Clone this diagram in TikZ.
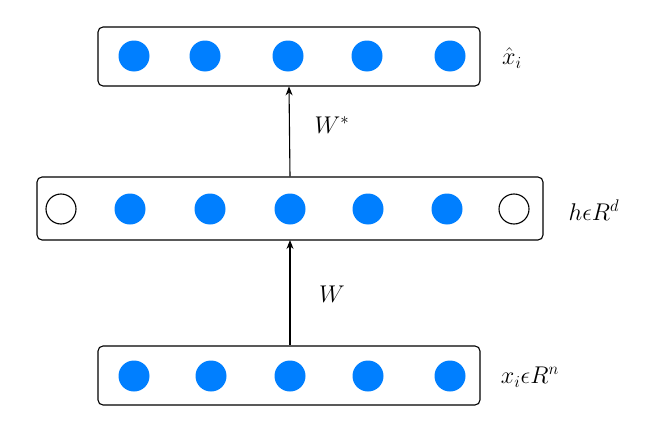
\documentclass[tikz,border=0pt]{standalone}
\usetikzlibrary{arrows.meta}
\definecolor{nb}{HTML}{007FFF}
\begin{document}
\begin{tikzpicture}[x=1pt,y=-1pt,
 box/.style={draw,rounded corners=5pt,line width=1.1pt},
 f/.style={circle,fill=nb,inner sep=0,minimum size=31pt},
 h/.style={circle,draw,line width=1.1pt,inner sep=0,minimum size=30pt},
 lab/.style={font=\fontsize{17}{20}\selectfont,scale=1.4},
 arr/.style={-{Stealth[length=9pt,width=7pt]},line width=1.1pt}]
\useasboundingbox (0,0) rectangle (651,423);
\node[box,minimum width=382pt,minimum height=59pt] (top) at (289,56.5) {};
\node[box,minimum width=506pt,minimum height=63pt] (mid) at (290,208.5) {};
\node[box,minimum width=382pt,minimum height=59pt] (bot) at (289,375.5) {};
\foreach \x [count=\i] in {134,205,288,367,450} \node[f] (t\i) at (\x,56) {};
\node[h] (m0) at (61,209) {};
\foreach \x [count=\i] in {130,210,290,368,447} \node[f] (m\i) at (\x,209) {};
\node[h] (m6) at (514,209) {};
\foreach \x [count=\i] in {134,211,290,368,450} \node[f] (b\i) at (\x,376) {};
\draw[arr] (bot.north) ++(1,0) coordinate (bs) -- (290,240) coordinate (me);
\draw[arr] (mid.north) -- (289,86.4);
\node[lab] (lw) at (332,294) {$W$};
\node[lab] (lws) at (332,125) {$W^{*}$};
\node[lab] (lt) at (512,58) {$\hat{x}_i$};
\node[lab] (lm) at (594,210) {$h\epsilon R^{d}$};
\node[lab] (lb) at (530,377) {$x_i\epsilon R^{n}$};
\end{tikzpicture}
\end{document}
